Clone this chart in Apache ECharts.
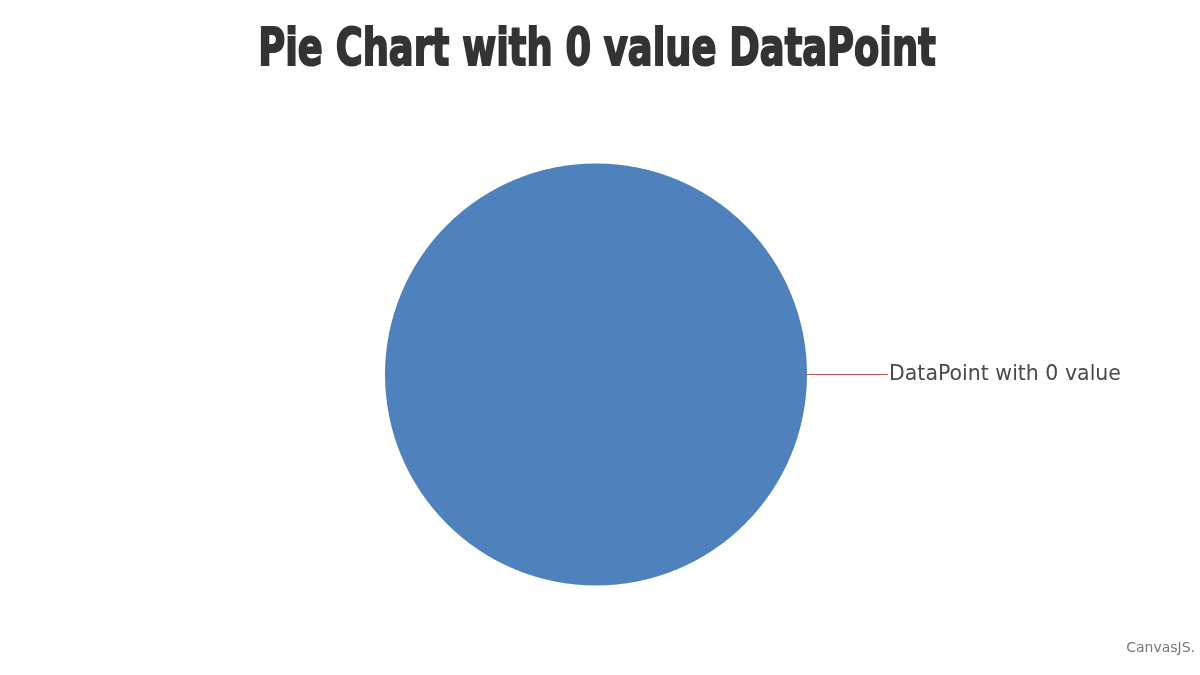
<!DOCTYPE html>
<html>
<head>
<meta charset="utf-8">
<title>Pie Chart with 0 value DataPoint</title>
<script src="https://cdn.jsdelivr.net/npm/echarts@6/dist/echarts.min.js"></script>
<style>
  html, body { margin: 0; padding: 0; background: #fff; }
  #chart { width: 1200px; height: 675px; }
</style>
</head>
<body>
<div id="chart"></div>
<script>
// Slice names and values
const names = ['', 'DataPoint with 0 value'];
const values = [100, 0];
const colors = ['#4F81BC', '#C0504E'];
const titleText = 'Pie Chart with 0 value DataPoint';

const chart = echarts.init(document.getElementById('chart'));

const data = names.map((n, i) => ({
  name: n,
  value: values[i],
  itemStyle: { color: colors[i] },
  label: { show: n !== '' },
  labelLine: { show: n !== '' }
}));

chart.setOption({
  animation: false,
  series: [{
    type: 'pie',
    center: [596, 374.5],
    radius: 211,
    startAngle: 0,
    clockwise: true,
    avoidLabelOverlap: false,
    stillShowZeroSum: true,
    itemStyle: { borderWidth: 0 },
    label: {
      position: 'outside',
      formatter: '{b}',
      fontFamily: '"DejaVu Sans", sans-serif',
      fontSize: 20.5,
      color: '#4a4a4a',
      distanceToLabelLine: 1
    },
    labelLine: {
      length: 40,
      length2: 41,
      lineStyle: { color: '#C0504E', width: 1 }
    },
    emphasis: { disabled: true },
    data: data
  }],
  graphic: [{
    // condensed heavy headline
    type: 'text',
    x: 597,
    y: 52,
    scaleX: 0.736,
    scaleY: 1.02,
    style: {
      x: 0,
      y: 0,
      text: titleText,
      textAlign: 'center',
      textVerticalAlign: 'middle',
      fontFamily: '"DejaVu Sans", sans-serif',
      fontWeight: 'bold',
      fontSize: 50,
      fill: '#333333',
      stroke: '#333333',
      lineWidth: 2
    }
  }, {
    type: 'text',
    right: 5,
    top: 641,
    style: {
      text: 'CanvasJS.',
      fontFamily: '"DejaVu Sans", sans-serif',
      fontSize: 14,
      fill: '#777777'
    }
  }]
});
</script>
</body>
</html>
